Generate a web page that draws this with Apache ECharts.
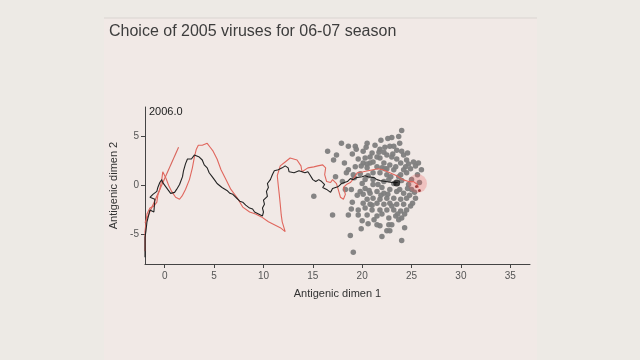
<!DOCTYPE html>
<html>
<head>
<meta charset="utf-8">
<script src="https://cdn.jsdelivr.net/npm/echarts@6/dist/echarts.min.js"></script>
<style>
html,body{margin:0;padding:0;background:#edeae5;}
#c{width:640px;height:360px;}
</style>
</head>
<body>
<div id="c"></div>
<script>
const chartTitle = 'Choice of 2005 viruses for 06-07 season';
const yearLabel = '2006.0';
const xName = 'Antigenic dimen 1';
const yName = 'Antigenic dimen 2';
const xTicks = [0, 5, 10, 15, 20, 25, 30, 35];
const yTicks = [-5, 0, 5];

const blackPath = [
  [-2.0,-7.3],[-2.0,-5.3],[-1.9,-4.6],[-1.8,-3.7],[-1.5,-2.5],[-1.3,-2.6],[-1.1,-2.7],[-1.0,-1.4],
  [-1.5,-1.2],[-1.2,-0.9],[-1.0,-1.0],[-0.8,-0.6],[-0.7,-0.2],[-0.6,0.0],[-0.5,0.3],[-0.3,0.6],
  [-0.2,0.3],[0.0,0.4],[0.3,-0.4],[0.4,-0.3],[0.6,-0.8],[1.0,-0.7],[1.2,-0.4],[1.5,0.1],
  [1.8,0.9],[1.9,1.5],[2.1,2.2],[2.3,2.7],[2.5,2.8],[2.7,2.7],[3.0,3.1],[3.2,3.2],[3.5,2.9],
  [3.8,2.6],[4.0,2.1],[4.3,1.8],[4.5,1.3],[4.8,0.9],[5.1,0.5],[5.3,0.2],[5.8,-0.2],[6.0,-0.3],
  [6.3,-0.5],[6.6,-0.8],[6.9,-0.9],[7.3,-1.3],[7.6,-1.6],[7.9,-1.7],[8.2,-2.0],[8.6,-2.3],
  [8.9,-2.4],[9.1,-2.7],[9.5,-2.9],[9.7,-2.8],[9.9,-3.1],[10.0,-2.7],[9.9,-2.3],[10.1,-1.9],
  [10.0,-1.5],[10.4,-1.1],[10.3,-0.6],[10.5,-0.2],[10.4,0.2],[10.7,0.6],[10.9,1.1],[11.1,1.5],
  [11.3,1.4],[11.5,1.6],[11.9,1.8],[12.2,2.0],[12.5,1.8],[12.6,1.4],[12.8,1.2],[13.1,1.3],
  [13.3,1.2],[13.6,1.5],[13.8,1.4],[14.2,1.3],[14.5,1.4],[14.7,1.1],[15.0,0.6],[15.3,0.4],
  [15.6,0.6],[15.9,0.4],[16.2,0.1],[16.0,-0.2],[16.4,-0.4],[16.8,-0.7],[17.0,-0.3],[17.3,-0.2],
  [17.6,-0.1],[17.9,0.2],[18.2,0.3],[18.5,0.4],[18.8,0.7],[19.1,0.6],[19.4,0.8],[20.0,0.9],
  [20.3,1.0],[20.6,0.9],[21.2,0.8],[21.5,0.6],[21.8,0.5],[22.4,0.4],[23.0,0.3],[23.6,0.3]
];

const redJump = [[1.4,3.9],[-2.0,-3.8]];

const redPath = [
  [-2.0,-6.7],[-2.0,-4.7],[-1.8,-2.9],[-1.5,-2.3],[-1.1,-2.1],[-0.8,-1.7],[-0.7,-1.0],[-0.5,-0.4],
  [-0.3,0.6],[-0.2,1.4],[0.1,0.8],[0.4,0.0],[0.7,-0.6],[1.1,-1.2],[1.5,-1.4],[1.8,-1.0],
  [2.1,-0.4],[2.5,0.6],[2.8,1.8],[3.0,2.9],[3.2,3.7],[3.4,4.1],[3.8,4.1],[4.3,4.3],[4.6,3.9],
  [4.9,3.5],[5.3,2.7],[5.7,1.6],[6.2,0.6],[6.7,-0.4],[7.3,-1.2],[7.9,-2.2],[8.6,-2.7],
  [9.2,-2.9],[9.8,-3.2],[10.5,-3.7],[11.1,-4.0],[11.7,-4.3],[12.2,-4.7],[12.4,-4.8],[12.0,-4.5],
  [11.9,-3.7],[11.8,-3.0],[11.7,-1.9],[11.6,-0.9],[11.5,0.0],[11.4,1.0],[11.7,2.0],[12.2,2.4],
  [12.7,2.8],[13.4,2.6],[13.8,2.0],[13.9,1.4],[14.5,1.8],[15.1,1.9],[15.5,2.0],[16.0,2.1],
  [16.3,1.8],[16.2,1.1],[16.4,0.4],[16.8,0.3],[17.0,0.6],[17.4,0.2],[17.6,-0.5],[17.8,-1.2],
  [18.1,-1.4],[18.3,-0.9],[18.1,-0.2],[18.4,0.1],[18.8,0.3],[19.2,0.8],[19.5,1.3],[20.1,1.4],
  [20.6,1.5],[21.1,1.6],[21.6,1.7],[22.1,1.6],[22.8,1.3],[23.5,1.0],[24.1,0.6],[24.7,0.4],
  [25.2,0.4],[25.6,0.1],[25.7,-0.2]
];

const viruses = [
  [24.0,5.6],[23.7,5.0],[23.0,4.9],[22.6,4.8],[23.8,4.3],[22.8,4.0],[23.2,4.0],[20.5,4.3],
  [19.3,4.0],[18.6,4.0],[17.9,4.3],[21.8,3.7],[22.2,3.4],[21.0,3.3],[24.0,3.5],[24.2,3.1],
  [20.1,3.5],[22.5,3.1],[23.0,2.9],[21.5,2.9],[21.8,2.8],[20.3,2.8],[23.5,2.7],[24.5,2.6],
  [25.2,2.4],[25.7,2.3],[25.4,2.0],[20.1,2.3],[20.8,2.3],[21.1,2.4],[22.2,2.3],[22.8,2.1],
  [23.9,2.3],[24.4,1.9],[24.9,1.7],[21.5,1.9],[22.0,1.8],[22.5,1.7],[23.2,1.6],[24.2,1.6],
  [20.5,1.8],[18.6,1.6],[18.4,1.3],[21.1,1.3],[21.8,1.3],[22.5,1.1],[23.9,1.1],[24.5,1.3],
  [25.6,1.1],[20.3,0.6],[21.1,0.6],[22.2,0.4],[22.7,0.6],[25.0,0.6],[23.2,0.2],[18.3,-0.4],
  [19.8,-0.6],[20.3,-0.3],[20.8,-0.8],[21.5,-0.6],[22.2,-0.8],[22.8,-0.4],[23.5,-0.6],[24.2,-0.8],
  [25.0,-0.4],[25.4,-1.3],[24.5,-1.3],[23.9,-1.4],[23.2,-1.3],[22.5,-1.3],[21.8,-1.4],[21.1,-1.3],
  [20.5,-1.4],[20.1,-1.8],[20.8,-1.9],[21.5,-1.8],[22.2,-1.9],[22.8,-1.8],[23.5,-1.9],[24.2,-1.9],
  [24.9,-2.1],[19.6,-2.5],[20.3,-2.3],[21.0,-2.5],[21.8,-2.5],[22.5,-2.5],[23.2,-2.5],[23.9,-2.6],
  [24.5,-2.5],[23.4,-3.1],[24.0,-3.3],[23.7,-3.5],[19.6,-3.0],[20.5,-3.0],[21.5,-3.1],[18.6,-3.0],
  [20.0,-3.6],[21.8,-4.1],[22.7,-4.0],[22.5,-4.6],[22.8,-4.6],[18.8,-5.1],[24.0,-5.6],[19.1,-6.8],
  [16.5,3.5],[17.1,2.6],[17.4,3.1],[17.3,0.9],[15.1,-1.1],[17.0,-3.0],
  [19.0,3.2],[19.6,2.7],[20.4,3.9],[21.3,4.1],[21.9,4.6],[22.3,3.9],[23.5,3.6],[24.6,3.3],
  [19.3,1.9],[19.8,1.2],[20.0,0.2],[19.5,-1.0],[19.0,-1.7],[18.9,-2.4],[19.2,0.8],[20.6,1.0],
  [21.6,0.1],[22.0,-0.2],[22.9,0.9],[23.4,1.9],[24.0,0.5],[24.7,0.1],[25.3,-0.7],[24.8,-1.0],
  [23.0,-2.1],[22.0,-2.9],[21.2,-3.5],[20.6,-3.9],[21.0,-2.0],[23.6,-2.9],[24.3,-2.9],[25.1,-1.8],
  [25.8,0.3],[26.0,1.6],[24.7,2.2],[23.1,3.2],[21.7,3.4],[20.8,2.9],[19.9,2.0],[19.1,1.1],
  [18.9,-0.4],[20.1,-0.9],[21.9,-1.0],[22.6,-0.9],[23.8,-0.4],[24.6,-0.3],[21.1,0.1],[20.7,-0.5],
  [22.3,1.7],[23.7,0.9],[20.5,2.2],[18.2,2.3],[18.0,0.4],[19.4,3.7],[22.7,-3.3],[21.5,-4.0],
  [23.0,-4.0],[24.3,-4.3],[19.9,-4.4],[22.0,-5.2]
];

const currentCentre = [[23.5,0.25]];
const chosenVirus = [[25.6,0.2]];
const chosenMarks = [[25.5,-0.1],[25.8,-0.5]];

const chart = echarts.init(document.getElementById('c'), null, {renderer:'canvas'});
const FONT = '"Liberation Sans", Arial, sans-serif';
chart.setOption({
  backgroundColor: '#edeae5',
  animation: false,
  graphic: [
    {type:'rect', z:-10, shape:{x:104,y:18,width:433,height:342}, style:{fill:'#f1e9e6'}},
    {type:'line', z:-9, shape:{x1:104,y1:18,x2:537,y2:18}, style:{stroke:'#d9d5d0',lineWidth:1}},
    {type:'text', left:109, top:24, style:{text:chartTitle, font:'16px '+FONT, fill:'#3d3d3d'}},
    {type:'text', left:149, top:106, style:{text:yearLabel, font:'11px '+FONT, fill:'#222'}}
  ],
  grid: {left:145, top:107, width:385, height:157, containLabel:false},
  xAxis: {
    type:'value', min:-2, max:37,
    name:xName, nameLocation:'middle', nameGap:24,
    nameTextStyle:{fontFamily:FONT, fontSize:11, color:'#333'},
    axisLine:{show:true, onZero:false, lineStyle:{color:'#444', width:1}},
    axisTick:{show:true, length:4, customValues:xTicks, lineStyle:{color:'#444'}},
    axisLabel:{show:true, customValues:xTicks, fontFamily:FONT, fontSize:10, color:'#555', margin:7},
    splitLine:{show:false}
  },
  yAxis: {
    type:'value', min:-8, max:8,
    name:yName, nameLocation:'middle', nameGap:25, nameRotate:90,
    nameTextStyle:{fontFamily:FONT, fontSize:11, color:'#333'},
    axisLine:{show:true, onZero:false, lineStyle:{color:'#444', width:1}},
    axisTick:{show:true, length:4, customValues:yTicks, lineStyle:{color:'#444'}},
    axisLabel:{show:true, customValues:yTicks, fontFamily:FONT, fontSize:10, color:'#555', margin:6},
    splitLine:{show:false}
  },
  series: [
    {type:'scatter', data:viruses, symbolSize:5.5, itemStyle:{color:'#7e7e7e', opacity:0.95}, z:2},
    {type:'scatter', data:chosenVirus, symbolSize:19, itemStyle:{color:'rgba(235,95,95,0.35)'}, z:3},
    {type:'line', data:redJump, symbol:'none', smooth:false, lineStyle:{color:'#d9655c', width:1.1}, z:4},
    {type:'line', data:redPath, symbol:'none', smooth:false, lineStyle:{color:'#e0665d', width:1.1}, z:4},
    {type:'line', data:blackPath, symbol:'none', smooth:false, lineStyle:{color:'#222', width:1.1}, z:5},
    {type:'scatter', data:currentCentre, symbolSize:7, itemStyle:{color:'#111'}, z:6},
    {type:'scatter', data:chosenMarks, symbolSize:3, itemStyle:{color:'#8a1f1f'}, z:6}
  ]
});
</script>
</body>
</html>
